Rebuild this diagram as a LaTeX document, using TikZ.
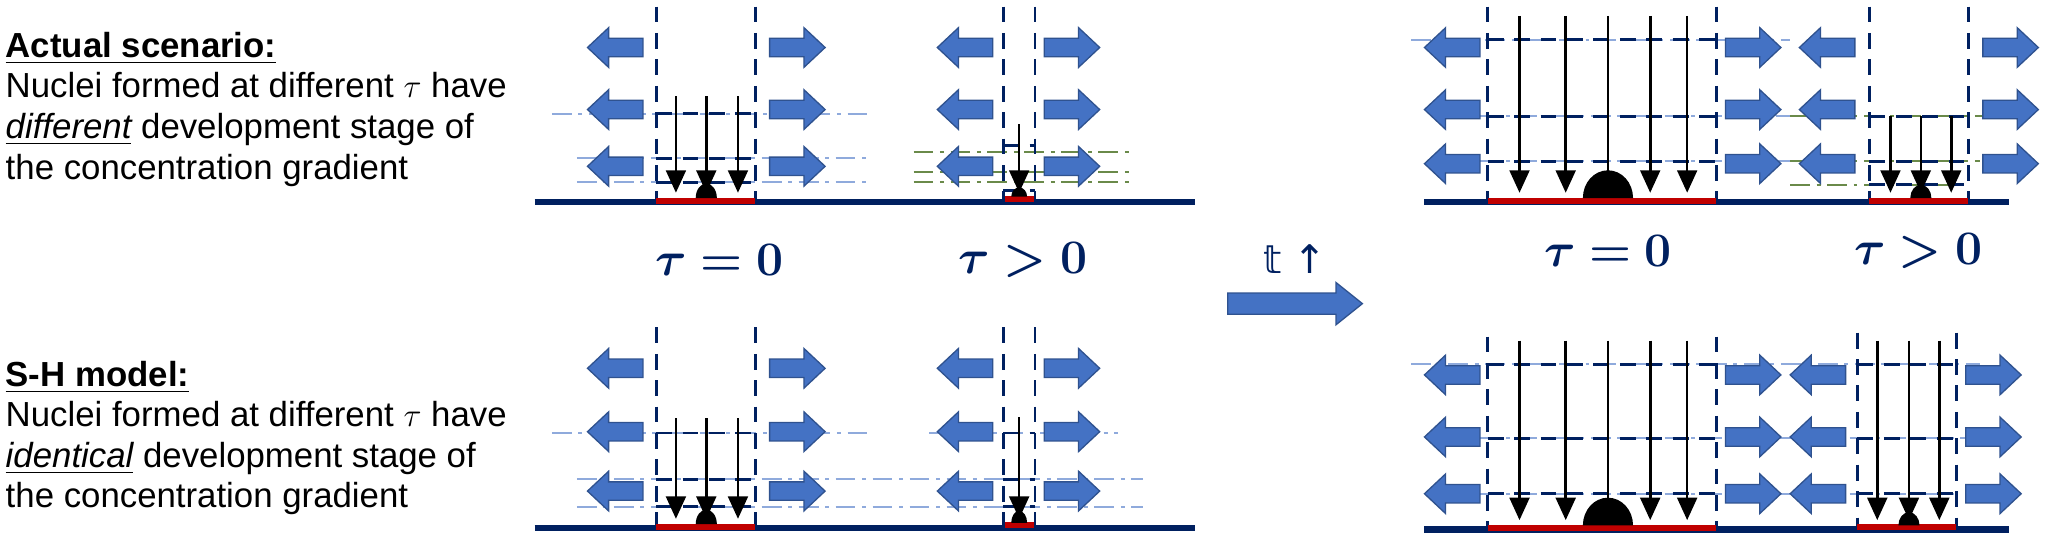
\documentclass[tikz,border=0pt]{standalone}
\usepackage{amsmath,amssymb,bm}
\usepackage{fontspec}
\setmainfont{Liberation Sans}
\newfontfamily\symfont{DejaVu Sans}
\usepackage{tikz}
\usetikzlibrary{positioning,arrows.meta}
\definecolor{navy}{HTML}{002060}
\definecolor{blk}{HTML}{4472C4}
\definecolor{blkedge}{HTML}{2F528F}
\definecolor{lblue}{HTML}{8FAADC}
\definecolor{dgreen}{HTML}{6A8A4A}
\definecolor{nred}{HTML}{C00000}
\tikzset{vline/.style={navy, dashed, line width=0.45mm, dash pattern=on 2.4mm off 1.6mm}}
\tikzset{hline/.style={lblue, line width=0.3mm, dash pattern=on 3mm off 1mm on 0.6mm off 1mm}}
\tikzset{gline/.style={dgreen, line width=0.3mm, dash pattern=on 3mm off 1mm on 0.6mm off 1mm}}
\tikzset{bline/.style={navy, line width=0.45mm, dash pattern=on 2.4mm off 1.6mm}}
\tikzset{base/.style={navy, line width=1mm}}
\tikzset{redseg/.style={nred, line width=0.9mm}}
\tikzset{flux/.style={black, line width=0.4mm, -{Triangle[width=3mm,length=3.4mm]}}}
\tikzset{blkarr/.style={fill=blk, draw=blkedge, line width=0.2mm}}
\tikzset{taulab/.style={navy, font=\fontsize{20}{24}\selectfont}}
\tikzset{txt/.style={anchor=north west, align=left, inner sep=0pt, font=\fontsize{15}{17.5}\selectfont}}
% block arrows: centre x, centre y
\newcommand\larr[2]{\path[blkarr] (#1-5,#2-7) -- (#1+21,#2-7) -- (#1+21,#2+7) -- (#1-5,#2+7) -- (#1-5,#2+15) -- (#1-21,#2) -- (#1-5,#2-15) -- cycle;}
\newcommand\rarr[2]{\path[blkarr] (#1+5,#2-7) -- (#1-21,#2-7) -- (#1-21,#2+7) -- (#1+5,#2+7) -- (#1+5,#2+15) -- (#1+21,#2) -- (#1+5,#2-15) -- cycle;}
% nucleus: centre x, base y, radius, height
\newcommand\dome[4]{\fill[black] (#1-#3,#2) arc (180:360:#3 and #4) -- cycle;}
\begin{document}
\begin{tikzpicture}[x=0.2mm,y=-0.2mm]
\useasboundingbox (0,0) rectangle (1568,411);

% texts
\node[txt] (act) at (4,24) {\textbf{\underline{Actual scenario:}}\\Nuclei formed at different $\tau$ have\\\textit{\underline{different}} development stage of\\the concentration gradient};
\node[txt] (sh) at (4,273) {\textbf{\underline{S-H model:}}\\Nuclei formed at different $\tau$ have\\\textit{\underline{identical}} development stage of\\the concentration gradient};

% ---------- top left ----------
\draw[hline] (418,86) -- (660,86);
\draw[hline] (437,120) -- (660,120);
\draw[hline] (437,138) -- (660,138);
\draw[gline] (692,115) -- (860,115);
\draw[gline] (692,130) -- (860,130);
\draw[gline] (692,138) -- (860,138);
\foreach \y in {86,120,138} \draw[bline] (497,\y) -- (572,\y);
\draw[bline] (760,110) -- (784,110);
\draw[bline] (760,144) -- (784,144);
\draw[vline] (497,5) -- (497,153);
\draw[vline] (572,5) -- (572,153);
\draw[vline] (760,5) -- (760,153);
\draw[vline] (784,5) -- (784,153);
\foreach \y in {36,83,126} {\larr{466}{\y} \rarr{604}{\y} \larr{731}{\y} \rarr{812}{\y}}
\draw[base] (405,153) -- (905,153);
\draw[redseg] (497,152) -- (572,152);
\draw[redseg] (761,151) -- (783,151);
\dome{535}{150}{8}{11}
\dome{772}{149}{6}{7}
\foreach \x in {512,535,559} \draw[flux] (\x,73) -- (\x,146);
\draw[flux] (772,94) -- (772,146);
\node[taulab] (t0a) at (545,197) {$\bm{\tau = 0}$};
\node[taulab] (t1a) at (775,197) {$\bm{\tau > 0}$};

% ---------- bottom left ----------
\draw[hline] (418,328) -- (660,328);
\draw[hline] (704,328) -- (847,328);
\draw[hline] (437,363) -- (866,363);
\draw[hline] (437,384) -- (866,384);
\foreach \y in {328,363,384} \draw[bline] (497,\y) -- (572,\y);
\foreach \y in {328,363,384} \draw[bline] (760,\y) -- (784,\y);
\draw[vline] (497,248) -- (497,400);
\draw[vline] (572,248) -- (572,400);
\draw[vline] (760,248) -- (760,400);
\draw[vline] (784,248) -- (784,400);
\foreach \y in {279,327,372} {\larr{466}{\y} \rarr{604}{\y} \larr{731}{\y} \rarr{812}{\y}}
\draw[base] (405,400) -- (905,400);
\draw[redseg] (497,399) -- (572,399);
\draw[redseg] (761,398) -- (783,398);
\dome{535}{397}{8}{11}
\dome{772}{396}{6}{9}
\foreach \x in {512,535,559} \draw[flux] (\x,317) -- (\x,393);
\draw[flux] (772,316) -- (772,393);

% ---------- middle ----------
\path[blkarr] (930,222) -- (1012,222) -- (1012,214) -- (1032,230) -- (1012,246) -- (1012,238) -- (930,238) -- cycle;
\node[navy, font=\symfont\fontsize{17}{20}\selectfont] (tup) at (981,196) {𝕥 ↑};

% ---------- top right ----------
\draw[hline] (1069,30) -- (1356,30);
\draw[hline] (1121,88) -- (1356,88);
\draw[hline] (1121,122) -- (1356,122);
\draw[gline] (1356,88) -- (1530,88);
\draw[gline] (1356,122) -- (1500,122);
\draw[gline] (1356,140) -- (1480,140);
\foreach \y in {30,88,122} \draw[bline] (1127,\y) -- (1300,\y);
\foreach \y in {88,122,140} \draw[bline] (1416,\y) -- (1491,\y);
\draw[vline] (1127,5) -- (1127,153);
\draw[vline] (1300,5) -- (1300,153);
\draw[vline] (1416,5) -- (1416,153);
\draw[vline] (1491,5) -- (1491,153);
\foreach \y in {36,83,124} {\larr{1100}{\y} \rarr{1328}{\y} \larr{1384}{\y} \rarr{1523}{\y}}
\draw[base] (1079,153) -- (1522,153);
\draw[redseg] (1127,152) -- (1300,152);
\draw[redseg] (1416,152) -- (1491,152);
\dome{1218}{150}{19}{21}
\dome{1455}{150}{8}{10}
\foreach \x in {1151,1186,1250,1278} \draw[flux] (\x,12) -- (\x,146);
\draw[black, line width=0.4mm] (1218,12) -- (1218,130);
\foreach \x in {1432,1455,1478} \draw[flux] (\x,88) -- (\x,146);
\node[taulab] (t0b) at (1218,190) {$\bm{\tau = 0}$};
\node[taulab] (t1b) at (1453,190) {$\bm{\tau > 0}$};

% ---------- bottom right ----------
\draw[hline] (1069,276) -- (1500,276);
\draw[hline] (1121,332) -- (1500,332);
\draw[hline] (1121,374) -- (1480,374);
\foreach \y in {276,332,374} {\draw[bline] (1127,\y) -- (1300,\y); \draw[bline] (1407,\y) -- (1482,\y);}
\draw[vline] (1127,255) -- (1127,400);
\draw[vline] (1300,255) -- (1300,400);
\draw[vline] (1407,252) -- (1407,400);
\draw[vline] (1482,252) -- (1482,400);
\foreach \y in {284,331,374} {\larr{1100}{\y} \rarr{1328}{\y} \larr{1377}{\y} \rarr{1510}{\y}}
\draw[base] (1079,401) -- (1522,401);
\draw[redseg] (1127,400) -- (1300,400);
\draw[redseg] (1407,399) -- (1482,399);
\dome{1218}{398}{19}{21}
\dome{1446}{398}{8}{10}
\foreach \x in {1151,1186,1250,1278} \draw[flux] (\x,258) -- (\x,394);
\draw[black, line width=0.4mm] (1218,258) -- (1218,378);
\foreach \x in {1422,1446,1469} \draw[flux] (\x,258) -- (\x,394);
\end{tikzpicture}
\end{document}
